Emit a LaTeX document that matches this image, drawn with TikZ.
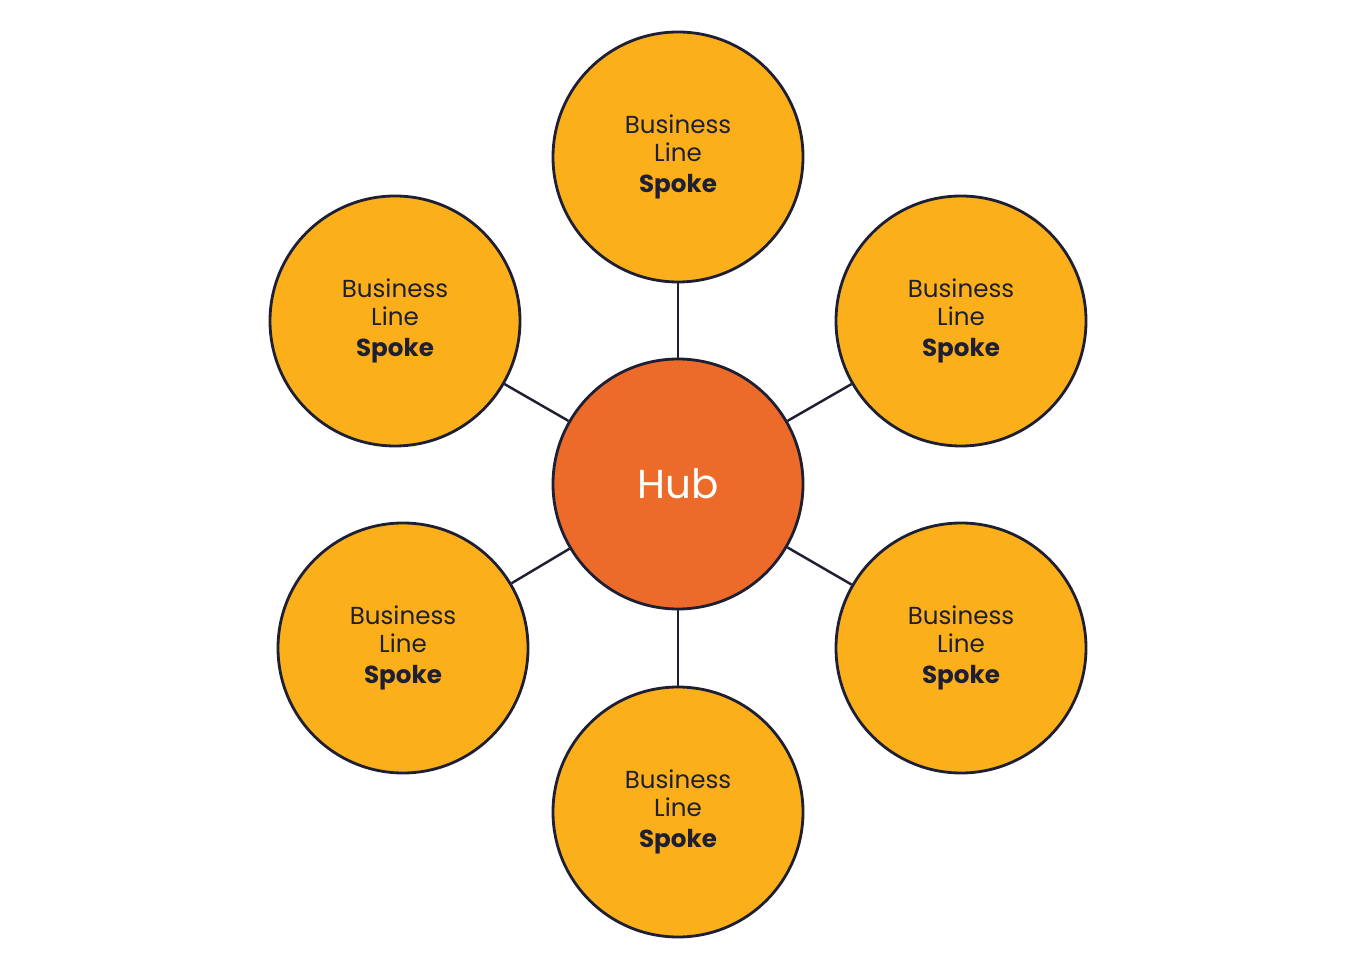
\documentclass[tikz,border=0pt]{standalone}
\usepackage{fontspec}
\setmainfont{Poppins}
\definecolor{spk}{HTML}{FBB01B}
\definecolor{hubc}{HTML}{EC6B2A}
\definecolor{edge}{HTML}{1F1F33}
\begin{document}
\begin{tikzpicture}[x=0.02cm,y=-0.02cm,
  spoke/.style={circle,draw=edge,line width=1.6pt,fill=spk,minimum size=250*0.02cm,inner sep=0pt,align=center,text=edge,font=\fontsize{14}{16}\selectfont},
  hub/.style={circle,draw=edge,line width=1.6pt,fill=hubc,minimum size=250*0.02cm,inner sep=0pt,text=white,font=\fontsize{23}{26}\selectfont},
  link/.style={draw=edge,line width=1.4pt}]
\useasboundingbox (0,0) rectangle (1358,972);
\newcommand{\spoketext}{Business\\Line\\[2pt]\textbf{Spoke}}
\coordinate (hc) at (678,484);
\node[spoke] (s1) at (678,157) {\spoketext};
\node[spoke] (s2) at (961,321) {\spoketext};
\node[spoke] (s3) at (961,648) {\spoketext};
\node[spoke] (s4) at (678,812) {\spoketext};
\node[spoke] (s5) at (403,648) {\spoketext};
\node[spoke] (s6) at (395,321) {\spoketext};
\node[hub] (h) at (hc) {Hub};
\foreach \s in {s1,s2,s3,s4,s5,s6} \draw[link] (h) -- (\s);
\end{tikzpicture}
\end{document}
